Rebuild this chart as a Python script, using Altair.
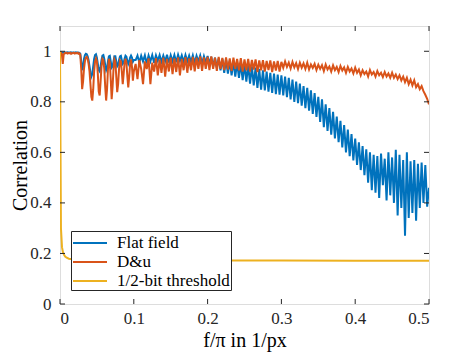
import altair as alt
import numpy as np
import pandas as pd

# ---------------- data ----------------
series_names = ["Flat field", "D&u", "1/2-bit threshold"]
series_colors = ["#0072BD", "#D95319", "#EDB120"]

x_ticks = [0, 0.1, 0.2, 0.3, 0.4, 0.5]
y_ticks = [0, 0.2, 0.4, 0.6, 0.8, 1.0]

# frequency grid: fine part (0 .. 0.1) and coarse part (0.1025 .. 0.5)
x_fine = [round(i * 0.00125, 5) for i in range(81)]
x_coarse = [round(0.1 + k * 0.0025, 5) for k in range(1, 161)]

flat_fine = [
    0.996, 0.996, 0.995, 0.994, 0.995, 0.996, 0.995, 0.994, 0.996, 0.995,
    0.994, 0.995, 0.996, 0.994, 0.995, 0.995, 0.994, 0.996, 0.995, 0.994,
    0.995, 0.994,
    0.990, 0.960, 0.925, 0.940, 0.970, 0.985, 0.990, 0.988, 0.980, 0.965,
    0.940, 0.915, 0.900, 0.910, 0.940, 0.970, 0.985, 0.988, 0.975, 0.950,
    0.925, 0.920, 0.940, 0.965, 0.983, 0.985, 0.970, 0.945, 0.925, 0.935,
    0.960, 0.980, 0.982, 0.960, 0.935, 0.940, 0.960, 0.980, 0.980, 0.960,
    0.940, 0.945, 0.965, 0.980, 0.982, 0.965, 0.950, 0.955, 0.970, 0.982,
    0.978, 0.962, 0.950, 0.960, 0.975, 0.983, 0.975, 0.958, 0.965,
]
flat_coarse = [
    0.965, 0.983, 0.955, 0.982, 0.960, 0.984, 0.952, 0.983, 0.960, 0.985,
    0.955, 0.984, 0.962, 0.985, 0.958, 0.983, 0.960, 0.986, 0.955, 0.984,
    0.960, 0.985, 0.957, 0.986, 0.962, 0.984, 0.958, 0.985, 0.960, 0.983,
    0.958, 0.984, 0.955, 0.982, 0.960, 0.983, 0.952, 0.980, 0.955, 0.981,
    0.950, 0.978, 0.940, 0.975, 0.935, 0.972, 0.925, 0.970, 0.915, 0.968,
    0.912, 0.962, 0.905, 0.960, 0.900, 0.955, 0.895, 0.952, 0.886, 0.948,
    0.880, 0.945, 0.872, 0.940, 0.865, 0.935, 0.855, 0.930, 0.848, 0.925,
    0.845, 0.920, 0.840, 0.915, 0.835, 0.912, 0.830, 0.908, 0.828, 0.905,
    0.825, 0.900, 0.818, 0.895, 0.810, 0.888, 0.800, 0.880, 0.795, 0.872,
    0.785, 0.862, 0.775, 0.855, 0.765, 0.845, 0.752, 0.835, 0.740, 0.820,
    0.720, 0.810, 0.700, 0.790, 0.685, 0.775, 0.670, 0.760, 0.655, 0.742,
    0.640, 0.725, 0.620, 0.708, 0.600, 0.690, 0.585, 0.672, 0.568, 0.655,
    0.550, 0.640, 0.530, 0.625, 0.510, 0.612, 0.480, 0.600, 0.450, 0.590,
    0.440, 0.585, 0.420, 0.595, 0.470, 0.575, 0.410, 0.600, 0.430, 0.580,
    0.400, 0.610, 0.350, 0.590, 0.380, 0.570, 0.270, 0.600, 0.340, 0.565,
    0.360, 0.570, 0.330, 0.555, 0.380, 0.560, 0.400, 0.550, 0.385, 0.460,
]

du_fine = [
    0.995, 0.995, 0.990, 0.950, 0.988, 0.993,
    0.992, 0.994, 0.991, 0.993, 0.992, 0.994, 0.990, 0.993, 0.992, 0.994,
    0.991, 0.993, 0.992, 0.994, 0.990, 0.992,
    0.985, 0.930, 0.850, 0.880, 0.930, 0.960, 0.975, 0.978, 0.970, 0.950,
    0.920, 0.870, 0.820, 0.805, 0.850, 0.920, 0.960, 0.972, 0.960, 0.910,
    0.840, 0.825, 0.880, 0.940, 0.970, 0.965, 0.930, 0.860, 0.805, 0.850,
    0.930, 0.970, 0.955, 0.890, 0.810, 0.860, 0.930, 0.968, 0.960, 0.900,
    0.838, 0.870, 0.930, 0.965, 0.960, 0.920, 0.870, 0.910, 0.955, 0.970,
    0.955, 0.900, 0.857, 0.900, 0.950, 0.968, 0.940, 0.884, 0.920,
]
du_coarse = [
    0.950, 0.890, 0.965, 0.930, 0.870, 0.960, 0.930, 0.972, 0.870, 0.955,
    0.920, 0.973, 0.905, 0.968, 0.915, 0.975, 0.900, 0.970, 0.920, 0.975,
    0.910, 0.972, 0.918, 0.976, 0.905, 0.970, 0.925, 0.977, 0.915, 0.972,
    0.925, 0.978, 0.920, 0.975, 0.930, 0.980, 0.922, 0.976, 0.930, 0.978,
    0.925, 0.980, 0.930, 0.975, 0.922, 0.978, 0.930, 0.974, 0.925, 0.976,
    0.928, 0.972, 0.922, 0.975, 0.930, 0.970, 0.925, 0.973, 0.920, 0.968,
    0.925, 0.970, 0.920, 0.966, 0.928, 0.968, 0.918, 0.964, 0.925, 0.965,
    0.920, 0.962, 0.926, 0.964, 0.918, 0.960, 0.924, 0.962, 0.920, 0.958,
    0.935, 0.960, 0.938, 0.955, 0.932, 0.958, 0.936, 0.953, 0.930, 0.955,
    0.935, 0.952, 0.930, 0.955, 0.928, 0.948, 0.934, 0.950, 0.926, 0.947,
    0.930, 0.945, 0.922, 0.948, 0.928, 0.940, 0.920, 0.944, 0.925, 0.938,
    0.918, 0.942, 0.924, 0.936, 0.915, 0.938, 0.920, 0.932, 0.912, 0.935,
    0.915, 0.928, 0.905, 0.925, 0.910, 0.920, 0.900, 0.926, 0.908, 0.918,
    0.900, 0.922, 0.905, 0.915, 0.898, 0.918, 0.900, 0.912, 0.895, 0.915,
    0.895, 0.908, 0.890, 0.905, 0.885, 0.900, 0.878, 0.895, 0.870, 0.888,
    0.865, 0.885, 0.858, 0.870, 0.850, 0.862, 0.842, 0.828, 0.812, 0.790,
]

thr_x = [0.0, 0.0013, 0.0027, 0.004, 0.0055, 0.007, 0.009, 0.012, 0.016,
         0.025, 0.05, 0.1, 0.2, 0.3, 0.4, 0.5]
thr_y = [1.0, 0.30, 0.225, 0.205, 0.195, 0.188, 0.183, 0.179, 0.177,
         0.175, 0.173, 0.172, 0.1718, 0.1717, 0.1716, 0.1716]

assert len(flat_fine) == len(x_fine) == len(du_fine)
assert len(flat_coarse) == len(x_coarse) == len(du_coarse)

x_all = x_fine + x_coarse
df = pd.concat([
    pd.DataFrame({"f": x_all, "c": flat_fine + flat_coarse, "s": series_names[0], "o": 0}),
    pd.DataFrame({"f": x_all, "c": du_fine + du_coarse, "s": series_names[1], "o": 1}),
    pd.DataFrame({"f": thr_x, "c": thr_y, "s": series_names[2], "o": 2}),
], ignore_index=True)
df["i"] = range(len(df))

W, H = 369, 278
FONT = "'Liberation Serif', 'Times New Roman', 'DejaVu Serif', serif"
TL = 5

xs = alt.Scale(domain=[0, 0.5], nice=False, zero=False)
ys = alt.Scale(domain=[0, 1.1], nice=False, zero=False)
color = alt.Color(
    "s:N",
    scale=alt.Scale(domain=series_names, range=series_colors),
    legend=alt.Legend(
        title=None, orient="none", legendX=11, legendY=205,
        symbolType="M-1.7,0H1.7", symbolSize=400, symbolStrokeWidth=2,
        symbolOffset=7, labelOffset=16,
        labelFont=FONT, labelFontSize=17, labelColor="#000",
        strokeColor="#262626", fillColor="white", padding=1,
        rowPadding=0, cornerRadius=0,
    ),
)

layers = []
for k, name in enumerate(series_names):
    layers.append(
        alt.Chart(df).transform_filter(alt.datum.o == k).mark_line(
            strokeWidth=2, clip=True
        ).encode(
            x=alt.X("f:Q", scale=xs, axis=alt.Axis(
                values=x_ticks, title="f/π in 1/px", format="~g",
                ticks=False, domain=False, grid=False,
                labelFont=FONT, labelFontSize=17, labelColor="#262626", labelPadding=6,
                titleFont=FONT, titleFontSize=20, titleFontWeight="normal",
                titleColor="#000", titleX=W / 2, titleY=36,
                titleBaseline="middle", titleAlign="center")),
            y=alt.Y("c:Q", scale=ys, axis=alt.Axis(
                values=y_ticks, title="Correlation", format="~g",
                ticks=False, domain=False, grid=False,
                labelFont=FONT, labelFontSize=17, labelColor="#262626", labelPadding=9,
                titleFont=FONT, titleFontSize=20, titleFontWeight="normal",
                titleColor="#000", titleX=-40, titleY=H / 2, titleAngle=270,
                titleBaseline="middle", titleAlign="center")),
            color=color,
            order="i:Q",
        )
    )

xt = pd.DataFrame({"t": x_ticks})
yt = pd.DataFrame({"t": y_ticks})
tick_style = dict(color="#262626", strokeWidth=1)
ticks = [
    alt.Chart(xt).mark_rule(**tick_style).encode(
        x=alt.X("t:Q", scale=xs), y=alt.value(H), y2=alt.value(H - TL)),
    alt.Chart(xt).mark_rule(**tick_style).encode(
        x=alt.X("t:Q", scale=xs), y=alt.value(0), y2=alt.value(TL)),
    alt.Chart(yt).mark_rule(**tick_style).encode(
        y=alt.Y("t:Q", scale=ys), x=alt.value(0), x2=alt.value(TL)),
    alt.Chart(yt).mark_rule(**tick_style).encode(
        y=alt.Y("t:Q", scale=ys), x=alt.value(W), x2=alt.value(W - TL)),
]

chart = alt.layer(*layers, *ticks).properties(
    width=W, height=H,
    autosize=alt.AutoSizeParams(type="none"),
    padding={"left": 52, "top": 18, "right": 37, "bottom": 48},
).configure_view(
    stroke="#262626", strokeWidth=1
).configure(background="white")

chart.save("out.html", embed_options={"renderer": "svg", "actions": False})
